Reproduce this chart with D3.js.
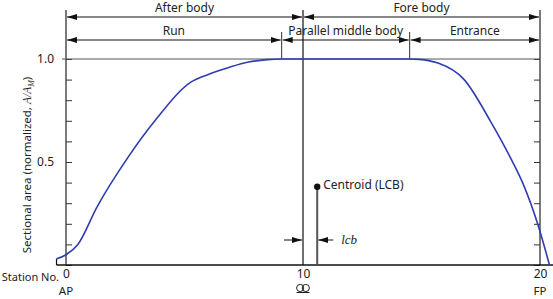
<!DOCTYPE html>
<html>
<head>
<meta charset="utf-8">
<script src="https://cdn.jsdelivr.net/npm/d3@7"></script>
<style>
  body { margin: 0; background: #fff; }
  svg { display: block; font-family: "Noto Sans", sans-serif; }
</style>
</head>
<body>
<svg id="chart" width="553" height="299"></svg>
<script>
// Sectional area curve: station number vs normalized area A/A_M
const stations = [-0.4, 0, 0.5, 1.3, 2.6, 3.75, 5.3, 6.0, 6.9, 7.7, 8.5, 9.1, 14.5, 14.9, 15.3, 15.7, 16.8, 17.9, 18.8, 19.3, 19.9, 20.4];
const areas    = [0.03, 0.05, 0.10, 0.28, 0.52, 0.70, 0.89, 0.925, 0.96, 0.985, 0.997, 1.0, 1.0, 0.998, 0.992, 0.98, 0.90, 0.70, 0.51, 0.39, 0.20, 0.0];

// Station labels along the bottom
const stationTicks = [0, 10, 20];
const stationNames = ["AP", "", "FP"];

// Body regions (in stations)
const bodyRegions = [
  { name: "After body", from: 0, to: 10 },
  { name: "Fore body", from: 10, to: 20 }
];
const partRegions = [
  { name: "Run", from: 0, to: 9.1 },
  { name: "Parallel middle body", from: 9.1, to: 14.5 },
  { name: "Entrance", from: 14.5, to: 20 }
];

// Centroid (LCB)
const lcbStation = 10.6;
const centroidMark = 0.38;

const svg = d3.select("#chart");

const x = d3.scaleLinear().domain([0, 20]).range([66, 540]);
const y = d3.scaleLinear().domain([0, 1]).range([265, 59]);

const ink = "#333";
const topY = 10;
const row1 = 17;
const row2 = 40;

// arrow heads
const defs = svg.append("defs");
function marker(id, dir) {
  defs.append("marker")
    .attr("id", id)
    .attr("viewBox", "0 0 10 6")
    .attr("refX", dir > 0 ? 10 : 0)
    .attr("refY", 3)
    .attr("markerWidth", 10)
    .attr("markerHeight", 6)
    .attr("markerUnits", "userSpaceOnUse")
    .attr("orient", "0")
    .append("path")
    .attr("d", dir > 0 ? "M0,0 L10,3 L0,6 Z" : "M10,0 L0,3 L10,6 Z")
    .attr("fill", "#111");
}
marker("arrR", 1);
marker("arrL", -1);

// tick values every 0.1
const yTicks = d3.range(0, 1.01, 0.1).map(d => +d.toFixed(1));

// left axis with inward ticks
svg.append("g")
  .attr("transform", `translate(${x(0)},0)`)
  .call(d3.axisLeft(y).tickValues(yTicks).tickSizeInner(-6).tickSizeOuter(0).tickPadding(12)
    .tickFormat(d => (d === 0.5 || d === 1) ? d3.format(".1f")(d) : ""))
  .call(g => g.select(".domain").remove())
  .call(g => g.selectAll("line").attr("stroke", ink))
  .call(g => g.selectAll("text").attr("font-size", 12).attr("fill", "#222").attr("font-family", "Noto Sans"));

// right axis with inward ticks
svg.append("g")
  .attr("transform", `translate(${x(20)},0)`)
  .call(d3.axisRight(y).tickValues(yTicks).tickSizeInner(-6).tickSizeOuter(0).tickFormat(""))
  .call(g => g.select(".domain").remove())
  .call(g => g.selectAll("line").attr("stroke", ink));

// vertical frame lines
[0, 20].forEach(s => {
  svg.append("line")
    .attr("x1", x(s)).attr("x2", x(s))
    .attr("y1", topY).attr("y2", y(0))
    .attr("stroke", ink).attr("stroke-width", 1.3);
});

// midship line
svg.append("line")
  .attr("x1", x(10)).attr("x2", x(10))
  .attr("y1", topY).attr("y2", y(0))
  .attr("stroke", "#111").attr("stroke-width", 1.2);

// region boundaries of row 2
[9.1, 14.5].forEach(s => {
  svg.append("line")
    .attr("x1", x(s)).attr("x2", x(s))
    .attr("y1", row2 - 8).attr("y2", y(1))
    .attr("stroke", ink).attr("stroke-width", 1);
});

// 1.0 reference line
svg.append("line")
  .attr("x1", x(0) - 4).attr("x2", x(20))
  .attr("y1", y(1)).attr("y2", y(1))
  .attr("stroke", "#555").attr("stroke-width", 1);

// bottom baseline
svg.append("line")
  .attr("x1", x(stations[0])).attr("x2", 553)
  .attr("y1", y(0)).attr("y2", y(0))
  .attr("stroke", "#111").attr("stroke-width", 1.3);

// dimension arrows
function dimRow(regions, rowY) {
  regions.forEach(r => {
    svg.append("line")
      .attr("x1", x(r.from) + 1).attr("x2", x(r.to) - 1)
      .attr("y1", rowY).attr("y2", rowY)
      .attr("stroke", "#111").attr("stroke-width", 1)
      .attr("marker-start", "url(#arrL)")
      .attr("marker-end", "url(#arrR)");
    svg.append("text")
      .attr("x", (x(r.from) + x(r.to)) / 2)
      .attr("y", rowY - 5)
      .attr("text-anchor", "middle")
      .attr("font-size", 12)
      .attr("fill", "#222")
      .text(r.name);
  });
}
dimRow(bodyRegions, row1);
dimRow(partRegions, row2);

// sectional area curve
svg.append("path")
  .datum(stations.map((s, i) => [s, areas[i]]))
  .attr("fill", "none")
  .attr("stroke", "#2f3db0")
  .attr("stroke-width", 1.6)
  .attr("d", d3.line().x(d => x(d[0])).y(d => y(d[1])).curve(d3.curveMonotoneX));

// small mark at curve start
svg.append("line")
  .attr("x1", x(stations[0])).attr("x2", x(stations[0]))
  .attr("y1", y(areas[0])).attr("y2", y(0))
  .attr("stroke", "#111").attr("stroke-width", 1.2);

// centroid
svg.append("line")
  .attr("x1", x(lcbStation)).attr("x2", x(lcbStation))
  .attr("y1", y(centroidMark)).attr("y2", y(0))
  .attr("stroke", "#555").attr("stroke-width", 2);
svg.append("circle")
  .attr("cx", x(lcbStation)).attr("cy", y(centroidMark))
  .attr("r", 3.2).attr("fill", "#111");
svg.append("text")
  .attr("x", x(lcbStation) + 6).attr("y", y(centroidMark) + 2)
  .attr("font-size", 12).attr("fill", "#222")
  .text("Centroid (LCB)");

// lcb dimension arrows
const lcbY = 240;
svg.append("line")
  .attr("x1", x(10) - 19).attr("x2", x(10) - 1)
  .attr("y1", lcbY).attr("y2", lcbY)
  .attr("stroke", "#111").attr("marker-end", "url(#arrR)");
svg.append("line")
  .attr("x1", x(lcbStation) + 16).attr("x2", x(lcbStation) + 1)
  .attr("y1", lcbY).attr("y2", lcbY)
  .attr("stroke", "#111").attr("marker-end", "url(#arrL)");
svg.append("text")
  .attr("x", x(lcbStation) + 24).attr("y", lcbY + 4)
  .attr("font-family", "Liberation Serif, serif")
  .attr("font-style", "italic")
  .attr("font-size", 13)
  .attr("fill", "#222")
  .text("lcb");

// bottom station labels
svg.append("g")
  .attr("transform", `translate(0,${y(0)})`)
  .call(d3.axisBottom(x).tickValues(stationTicks).tickSize(0).tickPadding(4).tickFormat(d3.format("d")))
  .call(g => g.select(".domain").remove())
  .call(g => g.selectAll("text").attr("font-size", 12).attr("fill", "#222").attr("font-family", "Noto Sans"));

svg.append("text")
  .attr("x", x(0) - 7).attr("y", y(0) + 16)
  .attr("text-anchor", "end")
  .attr("font-size", 11).attr("fill", "#222")
  .text("Station No.");

stationTicks.forEach((s, i) => {
  if (!stationNames[i]) return;
  svg.append("text")
    .attr("x", x(s)).attr("y", y(0) + 30)
    .attr("text-anchor", "middle")
    .attr("font-size", 11.5).attr("fill", "#222")
    .text(stationNames[i]);
});

// midship symbol
const ms = svg.append("g").attr("transform", `translate(${x(10)},${y(0) + 23})`)
  .attr("fill", "none").attr("stroke", "#222").attr("stroke-width", 1);
ms.append("circle").attr("cx", -2.8).attr("cy", 0).attr("r", 3.6);
ms.append("circle").attr("cx", 2.8).attr("cy", 0).attr("r", 3.6);
ms.append("line").attr("x1", -6.5).attr("x2", 6.5).attr("y1", 4.5).attr("y2", 4.5);

// y axis title
const yt = svg.append("text")
  .attr("transform", `translate(31,${(y(0) + y(1)) / 2 + 3}) rotate(-90)`)
  .attr("text-anchor", "middle")
  .attr("font-size", 11.5).attr("fill", "#222");
yt.append("tspan").text("Sectional area (normalized, ");
yt.append("tspan").attr("font-family", "Liberation Serif, serif").attr("font-style", "italic").text("A/A");
yt.append("tspan").attr("font-family", "Liberation Serif, serif").attr("font-style", "italic")
  .attr("font-size", 8).attr("dy", 3).text("M");
yt.append("tspan").attr("dy", -3).text(")");
</script>
</body>
</html>
